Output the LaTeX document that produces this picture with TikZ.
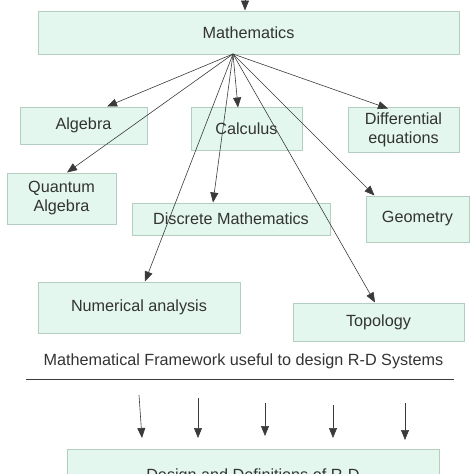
\documentclass[tikz,border=0pt]{standalone}
\usepackage{fontspec}
\setmainfont{Liberation Sans}
\usetikzlibrary{arrows.meta,calc}
\definecolor{boxfill}{HTML}{E3F7EE}
\definecolor{boxline}{HTML}{B3CDC1}
\definecolor{txt}{HTML}{333333}
\definecolor{arr}{HTML}{3A3A3A}
\tikzset{
  box/.style={draw=boxline, line width=1pt, fill=boxfill, text=txt, inner sep=0pt,
    align=center, font=\fontsize{16.2}{19}\selectfont},
  conn/.style={draw=arr, line width=0.6pt, -{Triangle[length=10pt,width=8pt]}},
  lbl/.style={text=txt, font=\fontsize{16.2}{19}\selectfont, inner sep=0pt}
}
\begin{document}
\begin{tikzpicture}[x=1pt,y=-1pt]
\useasboundingbox (0,0) rectangle (474,474);
\clip (0,0) rectangle (474,474);
% boxes
\node[box, minimum width=421pt, minimum height=43pt] (math) at (248.5,32.5) {Mathematics};
\node[box, minimum width=127pt, minimum height=37pt] (alg) at (83.5,125.5) {Algebra};
\node[box, minimum width=111pt, minimum height=43pt] (calc) at (246.5,128.5) {Calculus};
\node[box, minimum width=111pt, minimum height=45pt] (diff) at (403.5,129.5) {Differential\\equations};
\node[box, minimum width=109pt, minimum height=51pt] (quant) at (61.5,198.5) {Quantum\\Algebra};
\node[box, minimum width=198pt, minimum height=32pt] (disc) at (231,219) {Discrete Mathematics};
\node[box, minimum width=103pt, minimum height=46pt] (geom) at (417.5,219) {Geometry};
\node[box, minimum width=202pt, minimum height=51pt] (num) at (139,307.5) {Numerical analysis};
\node[box, minimum width=171pt, minimum height=38pt] (topo) at (378.5,322) {Topology};
\node[box, minimum width=372pt, minimum height=60pt, anchor=north west] (design) at (67,449) {};
\node[lbl, anchor=north] (designtxt) at (253,469) {Design and Definitions of R-D};
% caption and rule
\node[lbl] (cap) at (243.5,361) {Mathematical Framework useful to design R-D Systems};
\coordinate (ruleL) at (26,379);
\coordinate (ruleR) at (454,379);
\draw[draw=arr, line width=0.8pt] (ruleL) -- (ruleR);
% top incoming arrow
\coordinate (topin) at (245,-6);
\draw[conn] (topin) -- (math.north -| topin);
% hub arrows
\coordinate (hub) at (233,54);
\draw[conn] (hub) -- ([xshift=23.5pt]alg.north);
\draw[conn] (hub) -- ([xshift=-8.5pt,yshift=-1pt]calc.north);
\draw[conn] (hub) -- ([xshift=-15.5pt,yshift=-2pt]diff.north);
\draw[conn] (hub) -- ([xshift=5.5pt]quant.north);
\draw[conn] (hub) -- ([xshift=-18pt]disc.north);
\draw[conn] (hub) -- ([xshift=9pt]geom.north west);
\draw[conn] (hub) -- ([xshift=6pt]num.north);
\draw[conn] (hub) -- ([xshift=-3.5pt]topo.north);
% bottom arrows
\coordinate (b1s) at (139,395); \coordinate (b1e) at (142,438);
\coordinate (b2s) at (198,398); \coordinate (b2e) at (198,438);
\coordinate (b3s) at (265,403); \coordinate (b3e) at (265,436);
\coordinate (b4s) at (333,405); \coordinate (b4e) at (333,438);
\coordinate (b5s) at (405,403); \coordinate (b5e) at (405,440);
\foreach \i in {1,...,5} { \draw[conn] (b\i s) -- (b\i e); }
\end{tikzpicture}
\end{document}
